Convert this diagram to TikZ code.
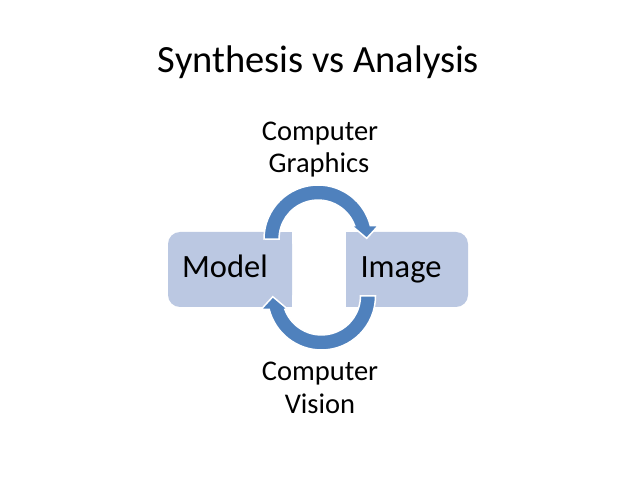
\documentclass[tikz,border=0pt]{standalone}
\usepackage{fontspec}
\setmainfont{Carlito}
\definecolor{boxfill}{RGB}{187,200,226}
\definecolor{arrowblue}{RGB}{79,129,189}
\begin{document}
\begin{tikzpicture}[x=1pt,y=-1pt,
  titlefont/.style={font=\fontsize{38.5}{46}\selectfont},
  labelfont/.style={font=\fontsize{28.5}{34}\selectfont},
  boxfont/.style={font=\fontsize{32.5}{39}\selectfont},
  txt/.style={anchor=base,inner sep=0pt,text=black},
  blockarrow/.style={fill=arrowblue,draw=white,line width=1.5pt,line join=miter}]
\fill[white] (0,0) rectangle (638,478);
\useasboundingbox (0,0) rectangle (638,478);
% boxes
\fill[boxfill,rounded corners=12pt] (168,232) rectangle (292,307);
\fill[boxfill] (250,232) rectangle (292,307);
\fill[boxfill,rounded corners=12pt] (346,232) rectangle (468,307);
\fill[boxfill] (346,232) rectangle (390,307);
\coordinate (ctop) at (318,239);
\coordinate (mid) at (319.75,267.5);
% top arrow (Model -> Image)
\path[blockarrow] (264,239) arc[start angle=180,end angle=345.7,radius=54]
  -- (378.3,225.7) -- (366.7,238.3) -- (351.7,225.7) -- (354.7,225.7)
  arc[start angle=340,end angle=180,radius=39] -- cycle;
% bottom arrow (Image -> Model)
\begin{scope}[rotate around={180:(mid)}]
\path[blockarrow] (264,239) arc[start angle=180,end angle=345.7,radius=54]
  -- (378.3,225.7) -- (366.7,238.3) -- (351.7,225.7) -- (354.7,225.7)
  arc[start angle=340,end angle=180,radius=39] -- cycle;
\end{scope}
% texts
\node[txt,titlefont] (title) at (318.5,72.5) {Synthesis vs Analysis};
\node[txt,labelfont] (cg1) at (320,140.5) {Computer};
\node[txt,labelfont] (cg2) at (319,172.5) {Graphics};
\node[txt,boxfont] (model) at (225,278) {Model};
\node[txt,boxfont] (image) at (401,278) {Image};
\node[txt,labelfont] (cv1) at (320,381) {Computer};
\node[txt,labelfont] (cv2) at (320,414) {Vision};
\end{tikzpicture}
\end{document}
